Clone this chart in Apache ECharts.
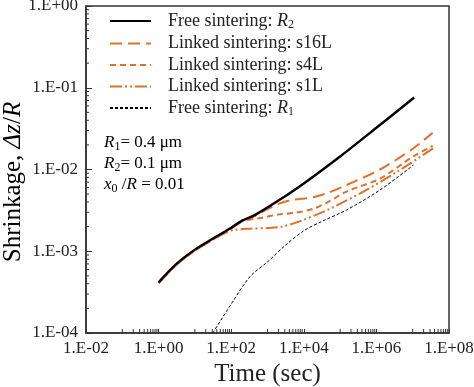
<!DOCTYPE html>
<html>
<head>
<meta charset="utf-8">
<script src="https://cdn.jsdelivr.net/npm/echarts@6/dist/echarts.min.js"></script>
<style>html,body{margin:0;padding:0;background:#fff}#c{width:474px;height:387px}</style>
</head>
<body>
<div id="c"></div>
<script>
// ---- data (time in sec, shrinkage dz/R) ----
const seriesNames = ['Free sintering: R2','Linked sintering: s16L','Linked sintering: s4L','Linked sintering: s1L','Free sintering: R1'];
const freeR2 = [[1,4.17e-4],[3,6.92e-4],[10,1.047e-3],[30,1.41e-3],[83,1.84e-3],[200,2.37e-3],[457,2.786e-3],[2000,4.17e-3],[1e4,6.76e-3],[1e5,1.445e-2],[1e6,3.24e-2],[1.1e7,7.59e-2]];
const linked16 = [[1,4.07e-4],[3,6.76e-4],[10,1.023e-3],[30,1.38e-3],[83,1.80e-3],[200,2.32e-3],[457,2.72e-3],[1000,3.27e-3],[2000,3.80e-3],[4570,4.24e-3],[18200,4.57e-3],[50100,5.25e-3],[151000,6.46e-3],[1.26e6,1.0e-2],[1.05e7,1.82e-2],[3.55e7,2.82e-2]];
const linked4 = [[1,4.07e-4],[3,6.76e-4],[10,1.023e-3],[30,1.38e-3],[83,1.80e-3],[200,2.32e-3],[316,2.43e-3],[692,2.57e-3],[2000,2.82e-3],[5620,2.95e-3],[18200,3.31e-3],[50100,4.07e-3],[151000,5.37e-3],[1.26e6,7.76e-3],[1.05e7,1.45e-2],[3.55e7,1.95e-2]];
const linked1 = [[1,4.07e-4],[3,6.76e-4],[10,1.023e-3],[30,1.37e-3],[63,1.64e-3],[115,1.82e-3],[330,1.89e-3],[1000,1.92e-3],[2500,2.0e-3],[7940,2.34e-3],[52500,3.31e-3],[437000,5.37e-3],[3.63e6,9.33e-3],[3.72e7,1.82e-2]];
const freeR1 = [[31,1.0e-4],[100,2.26e-4],[330,4.9e-4],[1000,7.4e-4],[3020,1.17e-3],[1e4,1.78e-3],[31600,2.32e-3],[151000,3.2e-3],[1.26e6,5.62e-3],[1.05e7,1.135e-2]];
// tick values
const xMinorTicks = [0.1,0.2,0.3,0.4,0.5,0.6,0.7,0.8,0.9, 10,20,30,40,50,60,70,80,90, 1e3,2e3,3e3,4e3,5e3,6e3,7e3,8e3,9e3, 1e5,2e5,3e5,4e5,5e5,6e5,7e5,8e5,9e5, 1e7,2e7,3e7,4e7,5e7,6e7,7e7,8e7,9e7];
const yMinorTicks = [2e-4,3e-4,4e-4,5e-4,6e-4,7e-4,8e-4,9e-4, 2e-3,3e-3,4e-3,5e-3,6e-3,7e-3,8e-3,9e-3, 2e-2,3e-2,4e-2,5e-2,6e-2,7e-2,8e-2,9e-2, 0.2,0.3,0.4,0.5,0.6,0.7,0.8,0.9];
const xMin = 0.01, xMax = 1e8, yMin = 1e-4, yMax = 1;

const SERIF = '"Liberation Serif","Times New Roman",serif';
const ORANGE = '#E0702A';
const AXIS = '#333';

function fmtExp(v){
  const e = Math.round(Math.log10(v));
  const s = e < 0 ? '-' : '+';
  const a = Math.abs(e);
  return '1.E' + s + (a < 10 ? '0' + a : a);
}
const legendText = {
  'Free sintering: R2': '{n|Free sintering: }{i|R}{s|2}',
  'Linked sintering: s16L': '{n|Linked sintering: s16L}',
  'Linked sintering: s4L': '{n|Linked sintering: s4L}',
  'Linked sintering: s1L': '{n|Linked sintering: s1L}',
  'Free sintering: R1': '{n|Free sintering: }{i|R}{s|1}'
};
const richBase = {
  n: {fontFamily: SERIF, fontSize: 18, color: '#222', lineHeight: 20},
  i: {fontFamily: SERIF, fontSize: 18, fontStyle: 'italic', color: '#222', lineHeight: 20},
  s: {fontFamily: SERIF, fontSize: 12, color: '#222', lineHeight: 10, verticalAlign: 'bottom'}
};

function tickRenderer(dir){
  return function(params, api){
    const p = api.coord([api.value(0), api.value(1)]);
    const shape = dir === 'x'
      ? {x1: p[0], y1: p[1], x2: p[0], y2: p[1] - 4}
      : {x1: p[0], y1: p[1], x2: p[0] + 3, y2: p[1]};
    return {type: 'line', shape: shape, style: {stroke: AXIS, lineWidth: 1}, silent: true};
  };
}

const chart = echarts.init(document.getElementById('c'), null, {renderer: 'canvas'});
chart.setOption({
  animation: false,
  backgroundColor: '#fff',
  grid: {left: 86, right: 25, top: 6, bottom: 54, outerBoundsMode: 'none', containLabel: false,
         show: true, borderColor: AXIS, borderWidth: 1.5, backgroundColor: 'transparent'},
  legend: {
    orient: 'vertical', left: 109, top: 12, padding: 0,
    itemWidth: 41, itemHeight: 14, itemGap: 3.5,
    data: seriesNames,
    formatter: function(name){ return legendText[name]; },
    itemStyle: {opacity: 0},
    textStyle: {fontFamily: SERIF, fontSize: 18, color: '#222', padding: [0,0,0,12], rich: richBase},
    selectedMode: false
  },
  xAxis: {
    type: 'log', logBase: 10, min: xMin, max: xMax, interval: 2, splitNumber: 5,
    name: 'Time (sec)', nameLocation: 'middle', nameGap: 28,
    nameTextStyle: {fontFamily: SERIF, fontSize: 25, color: '#222'},
    axisLine: {show: true, lineStyle: {color: AXIS, width: 1.5}},
    axisTick: {show: true, inside: true, length: 4, lineStyle: {color: AXIS}},
    minorTick: {show: false},
    splitLine: {show: false},
    axisLabel: {fontFamily: SERIF, fontSize: 17, color: '#222', margin: 7, formatter: fmtExp}
  },
  yAxis: {
    type: 'log', logBase: 10, min: yMin, max: yMax, interval: 1, splitNumber: 4,
    axisLine: {show: true, lineStyle: {color: AXIS, width: 1.5}},
    axisTick: {show: true, inside: true, length: 6, lineStyle: {color: AXIS}},
    minorTick: {show: false},
    splitLine: {show: false},
    axisLabel: {fontFamily: SERIF, fontSize: 17, color: '#222', margin: 8, formatter: fmtExp}
  },
  graphic: [
    {type: 'text', x: 13, y: 182, rotation: Math.PI / 2, silent: true,
     style: {text: '{a|Shrinkage, }{b|Δz}{a|/}{b|R}', align: 'center', verticalAlign: 'middle',
       rich: {a: {fontFamily: SERIF, fontSize: 25, color: '#222'}, b: {fontFamily: SERIF, fontSize: 25, fontStyle: 'italic', color: '#222'}}}},
    {type: 'text', left: 104, top: 134, silent: true,
     style: {text: '{i|R}{s|1}{n|= 0.4 μm}\n{i|R}{s|2}{n|= 0.1 μm}\n{i|x}{s|0}{n| /}{i|R}{n| = 0.01}',
       rich: {
         n: {fontFamily: SERIF, fontSize: 17, color: '#222', lineHeight: 21},
         i: {fontFamily: SERIF, fontSize: 17, fontStyle: 'italic', color: '#222', lineHeight: 21},
         s: {fontFamily: SERIF, fontSize: 12, color: '#222', lineHeight: 10, verticalAlign: 'bottom'}
       }}}
  ],
  series: [
    {name: seriesNames[0], type: 'line', data: freeR2, symbol: 'none', smooth: 0.3, z: 5,
     lineStyle: {color: '#000', width: 2.4, type: 'solid'}, itemStyle: {color: '#000'}},
    {name: seriesNames[1], type: 'line', data: linked16, symbol: 'none', smooth: 0.3, z: 3,
     lineStyle: {color: ORANGE, width: 2, type: [12, 6]}, itemStyle: {color: ORANGE}},
    {name: seriesNames[2], type: 'line', data: linked4, symbol: 'none', smooth: 0.3, z: 3,
     lineStyle: {color: ORANGE, width: 2, type: [6, 4]}, itemStyle: {color: ORANGE}},
    {name: seriesNames[3], type: 'line', data: linked1, symbol: 'none', smooth: 0.3, z: 3,
     lineStyle: {color: ORANGE, width: 2, type: [12, 3, 2, 3, 2, 3]}, itemStyle: {color: ORANGE}},
    {name: seriesNames[4], type: 'line', data: freeR1, symbol: 'none', smooth: 0.3, z: 4,
     lineStyle: {color: '#000', width: 1, type: [3, 2]}, itemStyle: {color: '#000'}},
    {type: 'custom', data: xMinorTicks.map(function(v){ return [v, yMin]; }), renderItem: tickRenderer('x'), silent: true, z: 6, clip: false},
    {type: 'custom', data: yMinorTicks.map(function(v){ return [xMin, v]; }), renderItem: tickRenderer('y'), silent: true, z: 6, clip: false}
  ]
});
</script>
</body>
</html>
